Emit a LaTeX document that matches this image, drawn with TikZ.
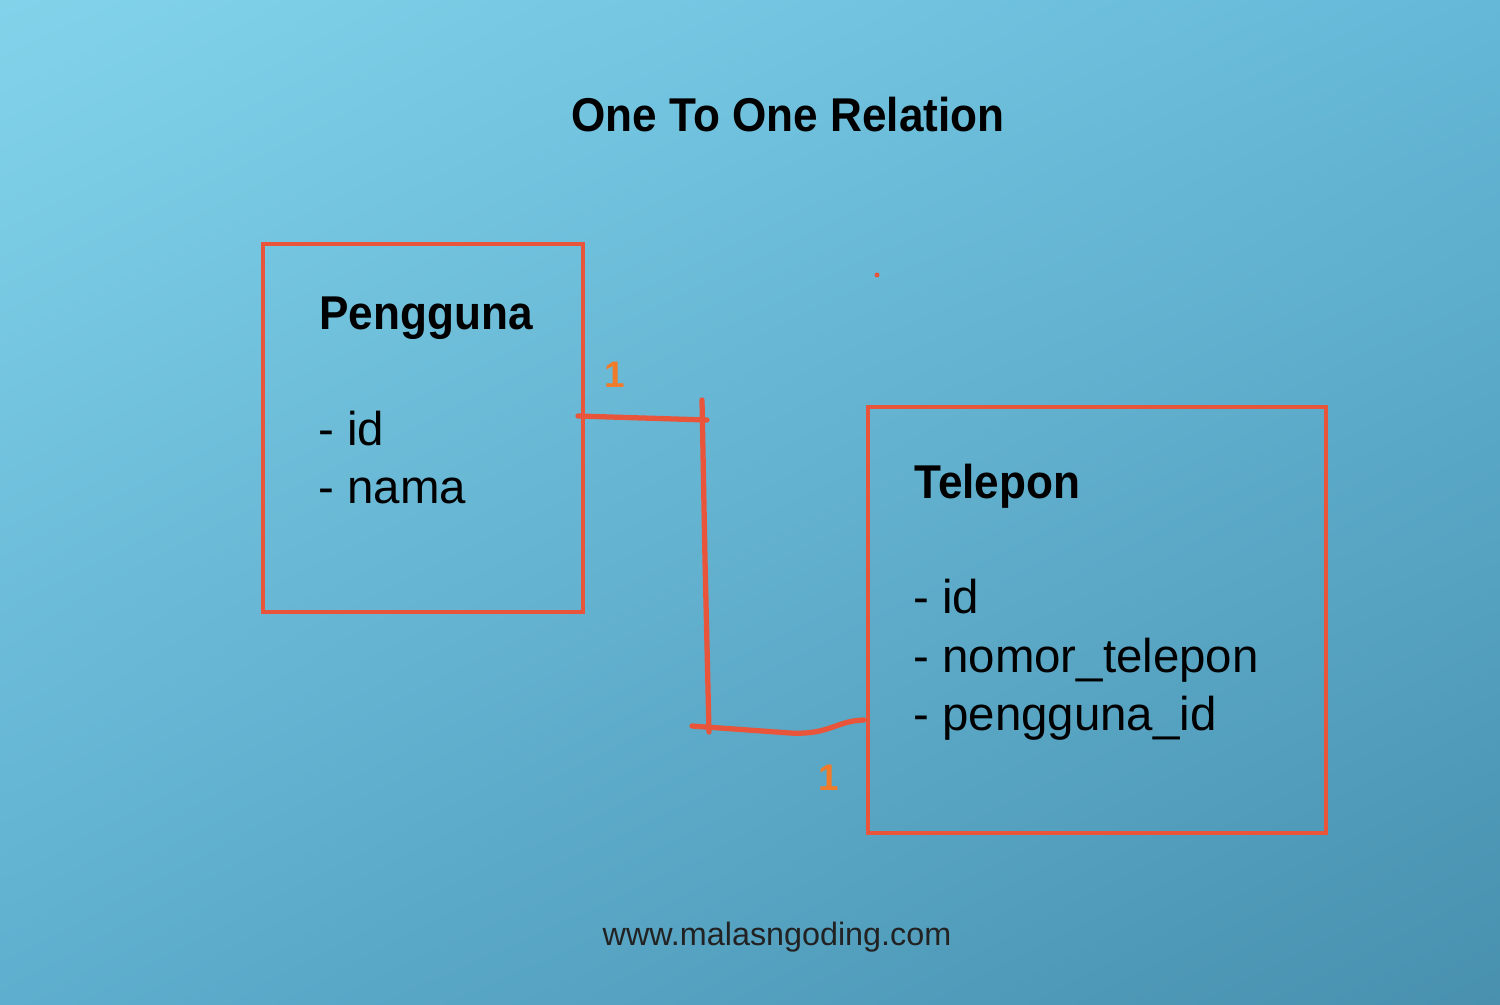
\documentclass[tikz,border=0pt]{standalone}
\usepackage{fontspec}
\setmainfont{Liberation Sans}
\newfontfamily\headfont[FakeStretch=0.93]{Liberation Sans}
\usetikzlibrary{positioning,shadings}
\definecolor{bgtl}{HTML}{82D3EA}
\definecolor{bgtr}{HTML}{65B8D8}
\definecolor{bgbl}{HTML}{5EAECF}
\definecolor{bgbr}{HTML}{4890AE}
\definecolor{penred}{HTML}{E8553A}
\definecolor{numorange}{HTML}{F07B2B}
\definecolor{footgray}{HTML}{222222}

\begin{document}
\begin{tikzpicture}[
  x = 0.02cm, y = -0.02cm,
  table/.style={draw=penred, line width=1.8pt, rectangle, inner sep=0pt},
  heading/.style={anchor=base west, inner sep=0pt, font=\headfont\fontsize{27}{32}\selectfont\bfseries},
  field/.style={anchor=base west, inner sep=0pt, font=\fontsize{27}{32}\selectfont},
  card/.style={anchor=base, inner sep=0pt, text=numorange, font=\fontsize{21}{25}\selectfont\bfseries},
  rel/.style={draw=penred, line width=3pt, line cap=round, line join=round}
]
    % Background
    \shade[upper left=bgtl, upper right=bgtr, lower left=bgbl, lower right=bgbr]
      (0,0) rectangle (1500,1004);
    \useasboundingbox (0,0) rectangle (1500,1004);

    % Title
    \node (title) at (788,131) [anchor=base, inner sep=0pt, font=\headfont\fontsize{27}{32}\selectfont\bfseries] {One To One Relation};

    % Pengguna
    \node (pengguna) at (423,428) [table, minimum width=6.4cm, minimum height=7.36cm] {};
    \node (pengname) at (319,329) [heading] {Pengguna};
    \node (pengid) at (318,445) [field] {- id};
    \node (pengnama) at (318,503) [field] {- nama};

    % Telepon
    \node (telepon) at (1097,620) [table, minimum width=9.16cm, minimum height=8.52cm] {};
    \node (telname) at (914,498) [heading] {Telepon};
    \node (telid) at (913,613) [field] {- id};
    \node (telnomor) at (913,672) [field] {- nomor\_telepon};
    \node (telpengid) at (913,730) [field] {- pengguna\_id};

    % Cardinalities
    \node (cardtop) at (615,387) [card] {1};
    \node (cardbot) at (829,790) [card] {1};

    % Footer
    \node (footer) at (777,945) [anchor=base, inner sep=0pt, text=footgray, font=\fontsize{18.4}{22}\selectfont] {www.malasngoding.com};

    % Stray dot
    \fill[penred] (877,275) circle (0.05cm);

    % Relation line
    \coordinate (start) at (578,416);
    \coordinate (bendtop) at (707,420);
    \coordinate (ticktop) at (702,400);
    \coordinate (tickbot) at (709,732);
    \coordinate (bendbot) at (692,726);
    \coordinate (finish) at (864,720);
    \draw[rel] (start) -- (bendtop);
    \draw[rel] (ticktop) -- (705,560) -- (tickbot);
    \draw[rel] (bendbot) -- (790,733) .. controls (830,735) and (835,721) .. (finish);
\end{tikzpicture}
\end{document}
